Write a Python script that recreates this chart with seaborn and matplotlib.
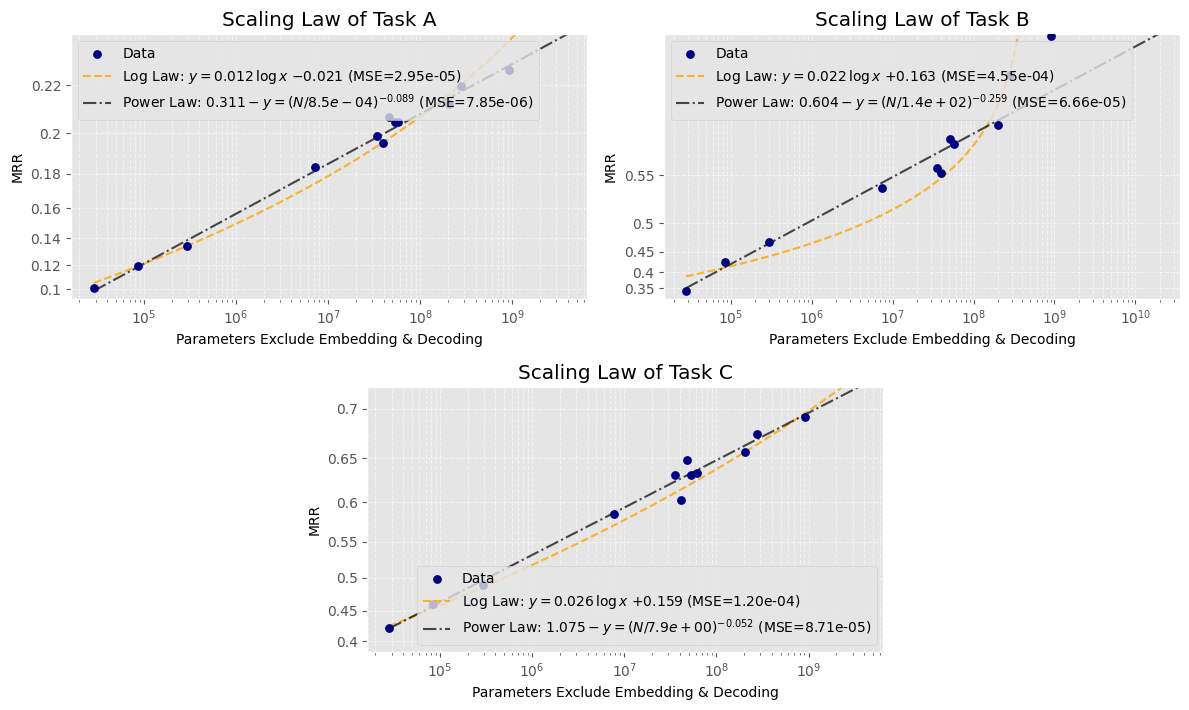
import numpy as np
import matplotlib
matplotlib.use("Agg")
import matplotlib.pyplot as plt
import seaborn as sns
from matplotlib.ticker import FixedLocator, StrMethodFormatter, NullLocator

# ---------------- data ----------------
task_names = ["A", "B", "C"]

params_a = [2.87e4, 8.67e4, 2.94e5, 7.2e6, 3.4e7, 3.92e7, 4.58e7, 5.32e7, 5.78e7, 2.06e8, 2.78e8, 9.2e8]
mrr_a = [0.1009, 0.1191, 0.1343, 0.1835, 0.1990, 0.1956, 0.2072, 0.2052, 0.2052, 0.2126, 0.2199, 0.2255]

params_b = [2.8e4, 8.6e4, 3.0e5, 7.4e6, 3.5e7, 3.96e7, 5.15e7, 5.8e7, 2.0e8, 2.8e8, 9.1e8]
mrr_b = [0.339, 0.426, 0.469, 0.5395, 0.555, 0.552, 0.571, 0.5687, 0.5768, 0.5904, 0.596]

params_c = [2.82e4, 8.46e4, 2.97e5, 7.8e6, 3.57e7, 4.15e7, 4.82e7, 5.28e7, 6.19e7, 2.04e8, 2.76e8, 9.1e8]
mrr_c = [0.423, 0.460, 0.490, 0.586, 0.632, 0.603, 0.648, 0.632, 0.634, 0.657, 0.6755, 0.6916]

# fitted curve coefficients (as drawn) and their legend texts
log_slope = [0.0125, 0.022, 0.026]
log_intercept = [-0.0228, 0.163, 0.159]
log_slope_text = ["0.012", "0.022", "0.026"]
log_intercept_text = ["-0.021", "+0.163", "+0.159"]
log_mse = ["2.95e-05", "4.55e-04", "1.20e-04"]

pow_limit = [0.311, 0.604, 1.075]
pow_scale = [8.5e-4, 1.4e2, 7.9e0]
pow_exponent = [0.0894, 0.259, 0.052]
pow_limit_text = ["0.311", "0.604", "1.075"]
pow_scale_text = ["8.5e-04", "1.4e+02", "7.9e+00"]
pow_exponent_text = ["0.089", "0.259", "0.052"]
pow_mse = ["7.85e-06", "6.66e-05", "8.71e-05"]

y_ticks_a = [0.1, 0.12, 0.14, 0.16, 0.18, 0.2, 0.22]
y_ticks_b = [0.35, 0.4, 0.45, 0.5, 0.55]
y_ticks_c = [0.4, 0.45, 0.5, 0.55, 0.6, 0.65, 0.7]

x_limits = [(1.62e4, 6.45e9), (1.50e4, 3.55e10), (1.64e4, 6.5e9)]
y_limits = [(0.0914, 0.2373), (0.3097, 0.5962), (0.3815, 0.7199)]
legend_locs = ["upper left", "upper left", "lower right"]

# ---------------- style ----------------
plt.style.use("ggplot")
plt.rcParams["font.family"] = ["DejaVu Sans"]

fig = plt.figure(figsize=(11.89, 7.10), dpi=100)
gs = fig.add_gridspec(2, 4, left=0.0597, right=0.9924, top=0.952, bottom=0.0817,
                      wspace=0.351, hspace=0.332)
axes = [fig.add_subplot(gs[0, 0:2]), fig.add_subplot(gs[0, 2:4]), fig.add_subplot(gs[1, 1:3])]

all_x = [params_a, params_b, params_c]
all_y = [mrr_a, mrr_b, mrr_c]
all_ticks = [y_ticks_a, y_ticks_b, y_ticks_c]


def make_funcs(L):
    def fwd(y):
        with np.errstate(all="ignore"):
            return -np.log(L - np.asarray(y, dtype=float))

    def inv(f):
        with np.errstate(all="ignore"):
            return L - np.exp(-np.asarray(f, dtype=float))
    return fwd, inv


for i, ax in enumerate(axes):
    x = np.array(all_x[i], dtype=float)
    y = np.array(all_y[i], dtype=float)
    L = pow_limit[i]
    a, b = log_slope[i], log_intercept[i]
    n0 = pow_scale[i]
    alpha = pow_exponent[i]

    ax.set_xscale("log")
    ax.set_yscale("function", functions=make_funcs(L))

    sns.scatterplot(x=x, y=y, ax=ax, color="navy", s=40, linewidth=0,
                    label="Data", zorder=3)

    xf = np.logspace(np.log10(x.min()), np.log10(x_limits[i][1]), 800)
    y_log = a * np.log(xf) + b
    y_log = np.where(y_log < L, y_log, np.nan)
    y_pow = L - (xf / n0) ** (-alpha)

    log_label = (rf"Log Law: $y={log_slope_text[i]}\,\log x$ ${log_intercept_text[i]}$ "
                 rf"(MSE={log_mse[i]})")
    pow_label = (rf"Power Law: ${pow_limit_text[i]}-y=(N/{pow_scale_text[i]})"
                 rf"^{{-{pow_exponent_text[i]}}}$ (MSE={pow_mse[i]})")

    sns.lineplot(x=xf, y=y_log, ax=ax, color="orange", linestyle="--", alpha=0.8,
                 label=log_label, sort=False, estimator=None, linewidth=1.5)
    sns.lineplot(x=xf, y=y_pow, ax=ax, color="black", linestyle="-.", alpha=0.7,
                 label=pow_label, sort=False, estimator=None, linewidth=1.5)

    ax.set_xlim(*x_limits[i])
    ax.set_ylim(*y_limits[i])
    ax.yaxis.set_major_locator(FixedLocator(all_ticks[i]))
    ax.yaxis.set_major_formatter(StrMethodFormatter("{x:g}"))
    ax.yaxis.set_minor_locator(NullLocator())

    ax.grid(True, which="both", linestyle="--", alpha=0.5)
    ax.tick_params(axis="both", labelsize=10)
    ax.set_title(f"Scaling Law of Task {task_names[i]}", fontsize=14.4)
    ax.set_xlabel("Parameters Exclude Embedding & Decoding", fontsize=10, color="black")
    ax.set_ylabel("MRR", fontsize=10, color="black")
    ax.legend(loc=legend_locs[i], fontsize=10)

fig.savefig("out.png", dpi=100)
